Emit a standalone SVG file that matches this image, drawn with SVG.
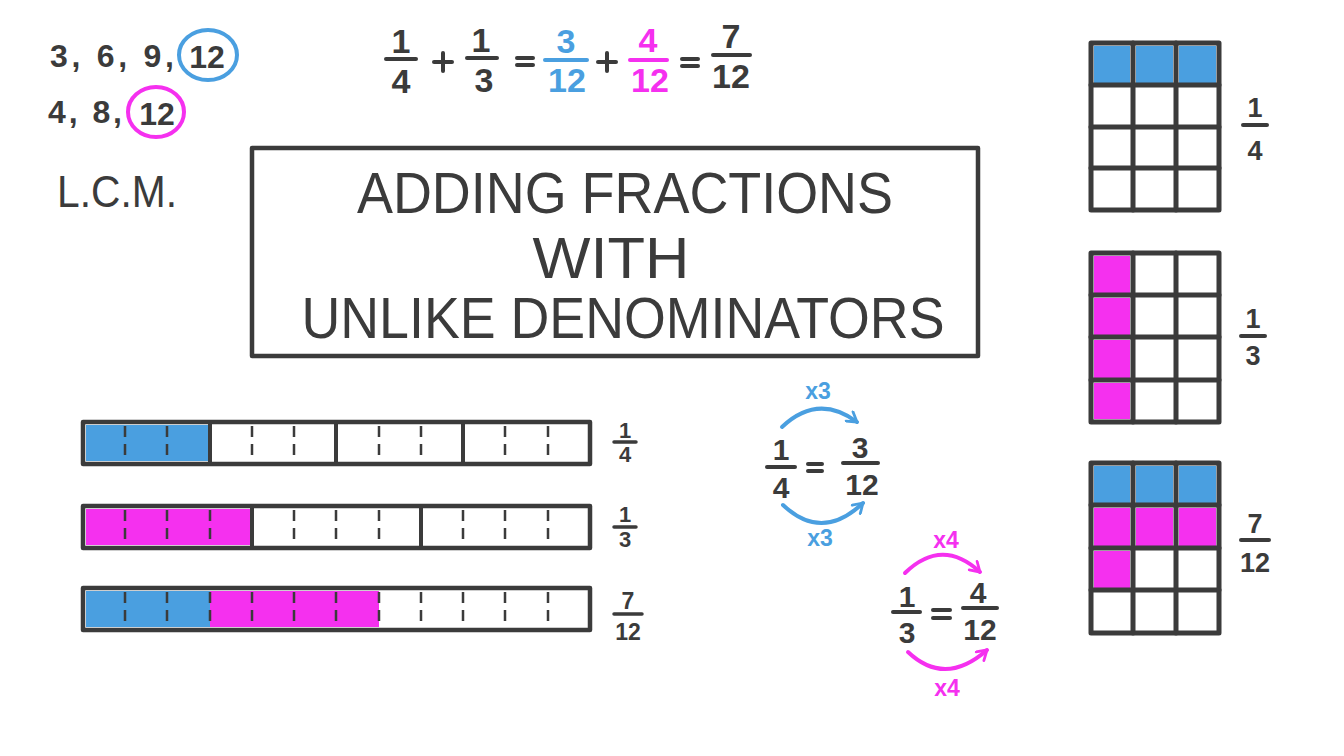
<svg xmlns="http://www.w3.org/2000/svg" width="1344" height="756" viewBox="0 0 1344 756">
<style>
.hw{font-family:"Liberation Sans",Arial,sans-serif;font-weight:bold;fill:#3b3b3b;text-anchor:middle}
.thin{font-family:"Liberation Sans",Arial,sans-serif;font-weight:normal;fill:#3b3b3b;text-anchor:middle}
.blue{fill:#4a9fe0}
.mag{fill:#f530ef}
.ln{stroke:#3b3b3b;stroke-width:4;stroke-linecap:round;fill:none}
.box{stroke:#3b3b3b;stroke-width:4.5;fill:none;stroke-linejoin:round}
.dash{stroke:#3b3b3b;stroke-width:2.5;stroke-dasharray:11 7;fill:none}
.bl{stroke:#4a9fe0}
.mg{stroke:#f530ef}
.arc{stroke-width:4;fill:none;stroke-linecap:round}
</style>
<defs>
<marker id="ab" viewBox="0 0 12 12" refX="10" refY="6" markerWidth="14" markerHeight="14" markerUnits="userSpaceOnUse" orient="auto"><path d="M2,1 L10,6 L2,11" fill="none" stroke="#4a9fe0" stroke-width="2.4" stroke-linecap="round" stroke-linejoin="round"/></marker>
<marker id="am" viewBox="0 0 12 12" refX="10" refY="6" markerWidth="14" markerHeight="14" markerUnits="userSpaceOnUse" orient="auto"><path d="M2,1 L10,6 L2,11" fill="none" stroke="#f530ef" stroke-width="2.4" stroke-linecap="round" stroke-linejoin="round"/></marker>
</defs>
<rect width="1344" height="756" fill="#ffffff"/>

<g id="multiples">
<text class="hw" x="50" y="67" font-size="32" style="text-anchor:start" textLength="124" lengthAdjust="spacing">3, 6, 9,</text>
<text class="hw" x="207" y="68" font-size="32">12</text>
<ellipse cx="208" cy="55" rx="29" ry="25" fill="none" stroke="#4a9fe0" stroke-width="4"/>
<text class="hw" x="48" y="123" font-size="32" style="text-anchor:start" textLength="74" lengthAdjust="spacing">4, 8,</text>
<text class="hw" x="157" y="125" font-size="32">12</text>
<ellipse cx="156" cy="112" rx="28" ry="25" fill="none" stroke="#f530ef" stroke-width="4"/>
<text class="thin" x="117" y="207" font-size="44" textLength="120" lengthAdjust="spacingAndGlyphs">L.C.M.</text>
</g>

<g id="equation">
<text class="hw" x="401" y="53" font-size="34">1</text>
<line class="ln" x1="386" y1="59" x2="416" y2="59"/>
<text class="hw" x="401" y="93" font-size="34">4</text>
<line class="ln" x1="434" y1="62" x2="452" y2="62"/><line class="ln" x1="443" y1="53" x2="443" y2="71"/>
<text class="hw" x="481" y="52" font-size="34">1</text>
<line class="ln" x1="467" y1="58" x2="497" y2="58"/>
<text class="hw" x="484" y="92" font-size="34">3</text>
<line class="ln" x1="517" y1="58" x2="533" y2="58"/><line class="ln" x1="517" y1="65" x2="533" y2="65"/>
<text class="hw blue" x="566" y="53" font-size="34">3</text>
<line class="ln bl" x1="545" y1="60" x2="587" y2="60"/>
<text class="hw blue" x="567" y="92" font-size="34">12</text>
<line class="ln" x1="598" y1="62" x2="616" y2="62"/><line class="ln" x1="607" y1="53" x2="607" y2="71"/>
<text class="hw mag" x="648" y="52" font-size="34">4</text>
<line class="ln mg" x1="630" y1="60" x2="667" y2="60"/>
<text class="hw mag" x="650" y="92" font-size="34">12</text>
<line class="ln" x1="682" y1="59" x2="698" y2="59"/><line class="ln" x1="682" y1="66" x2="698" y2="66"/>
<text class="hw" x="731" y="48" font-size="34">7</text>
<line class="ln" x1="713" y1="55" x2="750" y2="55"/>
<text class="hw" x="731" y="88" font-size="34">12</text>
</g>

<g id="title">
<rect class="box" x="252" y="148" width="726" height="208"/>
<text class="thin" x="625" y="213" font-size="58" textLength="536" lengthAdjust="spacingAndGlyphs">ADDING FRACTIONS</text>
<text class="thin" x="611" y="278" font-size="58" textLength="157" lengthAdjust="spacingAndGlyphs">WITH</text>
<text class="thin" x="623" y="338" font-size="58" textLength="643" lengthAdjust="spacingAndGlyphs">UNLIKE DENOMINATORS</text>
</g>

<g id="bar-quarter">
<rect x="86" y="425" width="123" height="36" class="blue"/>
<path class="dash" d="M125,426V460M167,426V460M252,426V460M294,426V460M379,426V460M421,426V460M505,426V460M548,426V460"/>
<path class="ln" d="M210,422V464M336,422V464M463,422V464"/>
<rect class="box" x="83" y="422" width="507" height="42"/>
<text class="hw" x="625" y="438" font-size="22">1</text>
<line class="ln" x1="614" y1="442" x2="636" y2="442" style="stroke-width:3.5"/>
<text class="hw" x="625" y="462" font-size="22">4</text>
</g>

<g id="bar-third">
<rect x="86" y="509" width="166" height="36" class="mag"/>
<path class="dash" d="M125,510V544M167,510V544M210,510V544M294,510V544M336,510V544M379,510V544M463,510V544M505,510V544M548,510V544"/>
<path class="ln" d="M252,506V548M421,506V548"/>
<rect class="box" x="83" y="506" width="507" height="42"/>
<text class="hw" x="625" y="522" font-size="22">1</text>
<line class="ln" x1="614" y1="527" x2="636" y2="527" style="stroke-width:3.5"/>
<text class="hw" x="625" y="547" font-size="22">3</text>
</g>

<g id="bar-sum">
<rect x="86" y="591" width="124" height="36" class="blue"/>
<rect x="210" y="591" width="169" height="36" class="mag"/>
<path class="dash" d="M125,592V626M167,592V626M210,592V626M252,592V626M294,592V626M336,592V626M379,592V626M421,592V626M463,592V626M505,592V626M548,592V626"/>
<rect class="box" x="83" y="588" width="507" height="42"/>
<text class="hw" x="628" y="609" font-size="23">7</text>
<line class="ln" x1="614" y1="614" x2="642" y2="614" style="stroke-width:3.5"/>
<text class="hw" x="628" y="640" font-size="23">12</text>
</g>

<g id="convert-quarter">
<text class="hw blue" x="818" y="399" font-size="23">x3</text>
<text class="hw" x="781" y="460" font-size="30">1</text>
<line class="ln" x1="767" y1="467" x2="795" y2="467"/>
<text class="hw" x="781" y="498" font-size="30">4</text>
<line class="ln" x1="808" y1="464" x2="822" y2="464"/><line class="ln" x1="808" y1="471" x2="822" y2="471"/>
<text class="hw" x="860" y="458" font-size="30">3</text>
<line class="ln" x1="843" y1="463" x2="878" y2="463"/>
<text class="hw" x="862" y="495" font-size="30">12</text>
<text class="hw blue" x="820" y="546" font-size="23">x3</text>
</g>

<g id="convert-third">
<text class="hw mag" x="946" y="548" font-size="23">x4</text>
<text class="hw" x="907" y="607" font-size="30">1</text>
<line class="ln" x1="893" y1="612" x2="920" y2="612"/>
<text class="hw" x="907" y="643" font-size="30">3</text>
<line class="ln" x1="933" y1="610" x2="950" y2="610"/><line class="ln" x1="933" y1="618" x2="950" y2="618"/>
<text class="hw" x="978" y="603" font-size="30">4</text>
<line class="ln" x1="963" y1="608" x2="997" y2="608"/>
<text class="hw" x="980" y="640" font-size="30">12</text>
<text class="hw mag" x="947" y="696" font-size="23">x4</text>
</g>

<g id="connectors">
<path class="arc bl" d="M782,427 Q818,393 857,422" marker-end="url(#ab)"/>
<path class="arc bl" d="M783,505 Q822,542 863,503" marker-end="url(#ab)"/>
<path class="arc mg" d="M905,573 Q942,537 980,572" marker-end="url(#am)"/>
<path class="arc mg" d="M908,652 Q945,687 987,650" marker-end="url(#am)"/>
</g>

<g id="grid-quarter">
<rect x="1094" y="46" width="36" height="37" class="blue"/>
<rect x="1136" y="46" width="37" height="37" class="blue"/>
<rect x="1179" y="46" width="37" height="37" class="blue"/>
<path class="ln" style="stroke-width:5" d="M1133,43V210M1176,43V210M1091,85H1219M1091,127H1219M1091,168H1219"/>
<rect class="box" style="stroke-width:5" x="1091" y="43" width="128" height="167"/>
<text class="hw" x="1255" y="117" font-size="27">1</text>
<line class="ln" x1="1243" y1="125" x2="1267" y2="125"/>
<text class="hw" x="1255" y="160" font-size="27">4</text>
</g>

<g id="grid-third">
<rect x="1094" y="256" width="36" height="37" class="mag"/>
<rect x="1094" y="298" width="36" height="37" class="mag"/>
<rect x="1094" y="340" width="36" height="38" class="mag"/>
<rect x="1094" y="383" width="36" height="36" class="mag"/>
<path class="ln" style="stroke-width:5" d="M1133,253V422M1176,253V422M1091,295H1219M1091,337H1219M1091,380H1219"/>
<rect class="box" style="stroke-width:5" x="1091" y="253" width="128" height="169"/>
<text class="hw" x="1253" y="328" font-size="27">1</text>
<line class="ln" x1="1241" y1="336" x2="1265" y2="336"/>
<text class="hw" x="1253" y="365" font-size="27">3</text>
</g>

<g id="grid-sum">
<rect x="1094" y="466" width="36" height="37" class="blue"/>
<rect x="1136" y="466" width="37" height="37" class="blue"/>
<rect x="1179" y="466" width="37" height="37" class="blue"/>
<rect x="1094" y="508" width="36" height="38" class="mag"/>
<rect x="1136" y="508" width="37" height="38" class="mag"/>
<rect x="1179" y="508" width="37" height="38" class="mag"/>
<rect x="1094" y="551" width="36" height="37" class="mag"/>
<path class="ln" style="stroke-width:5" d="M1133,463V633M1176,463V633M1091,505H1219M1091,548H1219M1091,590H1219"/>
<rect class="box" style="stroke-width:5" x="1091" y="463" width="128" height="170"/>
<text class="hw" x="1255" y="533" font-size="27">7</text>
<line class="ln" x1="1241" y1="540" x2="1269" y2="540"/>
<text class="hw" x="1255" y="572" font-size="27">12</text>
</g>
</svg>
